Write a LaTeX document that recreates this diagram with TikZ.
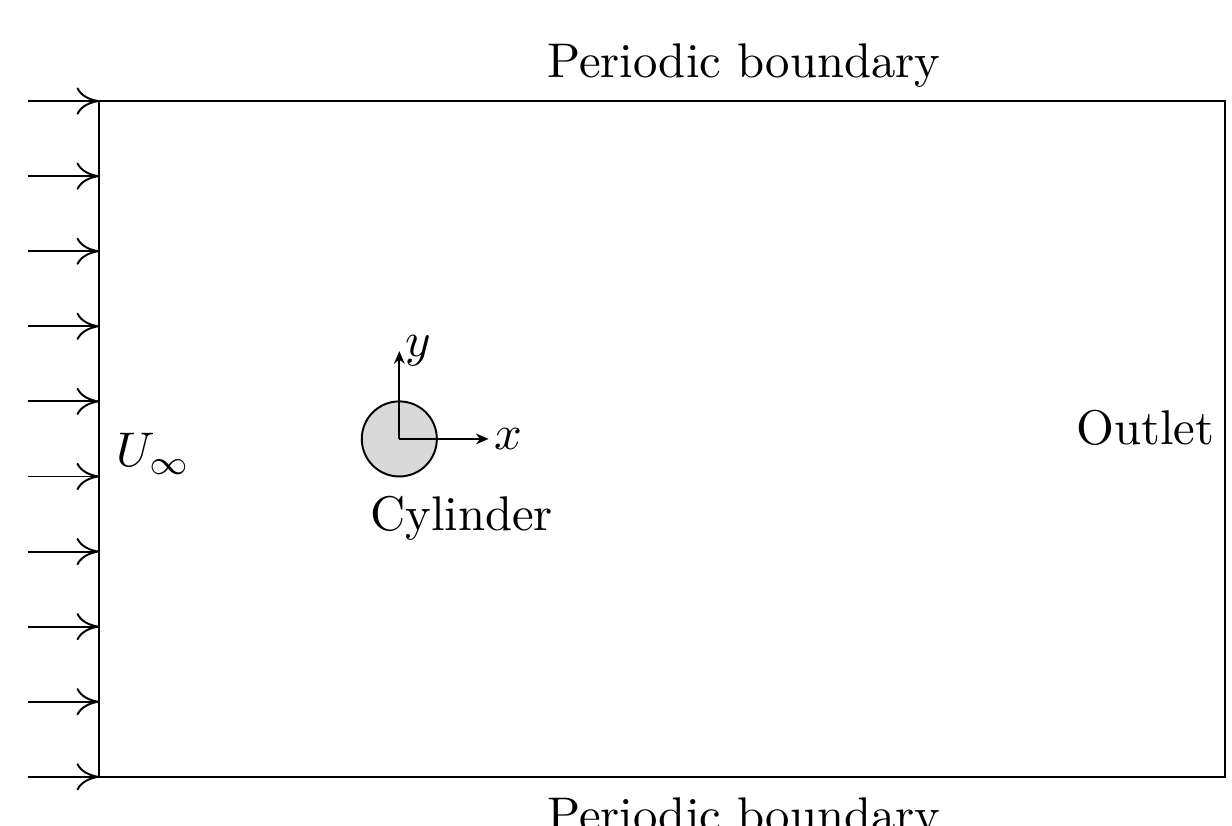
\documentclass[tikz,border=0pt]{standalone}
\usetikzlibrary{arrows.meta}
\begin{document}
\begin{tikzpicture}[x=0.542cm,y=0.542cm,
  inflow/.style={-{To[length=4.6pt,width=5.6pt]}},
  axis/.style={-{Stealth[length=2.6pt,width=2.2pt]}}]
\useasboundingbox (-1.318,-0.652) rectangle (15.09,10.346);
% domain
\draw (0,0) rectangle (15,9);
\coordinate (top) at (8.59,9);
\coordinate (bot) at (8.59,0);
\node[above,inner sep=2.5pt] (ptop) at (top) {Periodic boundary};
\node[below,inner sep=4pt] (pbot) at (bot) {Periodic boundary};
\node[left,inner sep=2pt] (outlet) at (15,4.65) {Outlet};
% inflow
\foreach \y in {0,1,...,9}
{
\coordinate (in\y) at (-0.95,\y);
\coordinate (wall\y) at (0,\y);
\draw[inflow] (in\y) -- (wall\y);
}
\node[right] (uinf) at (0,4.3) {$U_\infty$};
% cylinder
\draw[fill=black!15] (4,4.5) circle[radius=0.5];
\coordinate (o) at (4,4.5);
\coordinate (xend) at (5.19,4.5);
\coordinate (yend) at (4,5.67);
\draw[axis] (o) -- (xend);
\draw[axis] (o) -- (yend);
\node[right,inner sep=1pt] (xlab) at (xend) {$x$};
\node[right,inner sep=1pt] (ylab) at (yend) {$y$};
\node (cyl) at (4.83,3.44) {Cylinder};
\end{tikzpicture}
\end{document}
